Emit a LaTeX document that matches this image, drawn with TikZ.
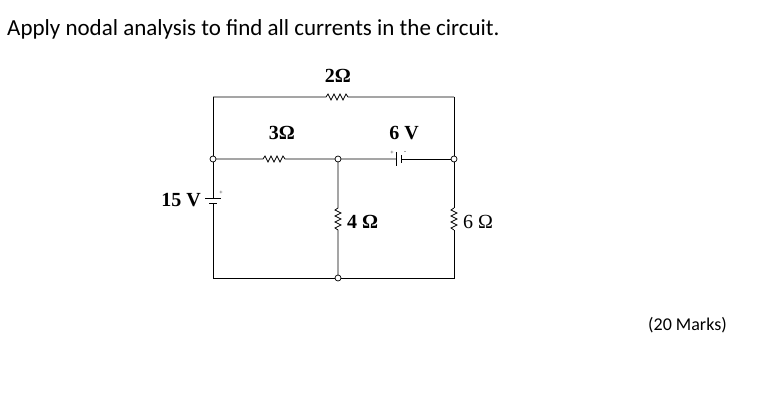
\documentclass[tikz,border=0pt]{standalone}
\usepackage{fontspec}
\setmainfont{Liberation Serif}
\newfontfamily\calib{Carlito}
\begin{document}
\begin{tikzpicture}[x=1pt,y=-1pt,
  wire/.style={line width=0.8pt},
  term/.style={circle,draw,line width=0.7pt,fill=white,inner sep=0pt,minimum size=6pt},
  lbl/.style={font=\fontsize{20}{20}\selectfont\bfseries,inner sep=0pt}]
\useasboundingbox (0,0) rectangle (775,415);
\node[anchor=west,font=\calib\fontsize{23}{25}\selectfont,inner sep=0pt] (title) at (7,29) {Apply nodal analysis to find all currents in the circuit.};
\node[anchor=west,font=\calib\fontsize{18}{20}\selectfont,inner sep=0pt] (marks) at (648,325) {(20 Marks)};
\coordinate (TL) at (213,97); \coordinate (TR) at (454,97);
\coordinate (BL) at (213,278); \coordinate (BR) at (454,278);
\draw[wire] (TL) -- (326,97) -- (328,94) -- (331,100) -- (334,94) -- (337,100) -- (340,94) -- (343,100) -- (346,94) -- (348,97) -- (TR);
\draw[wire] (TL) -- (213,198);
\draw[wire] (205,198) -- (221,198);
\draw[wire] (209,203) -- (217,203);
\draw[wire] (213,203) -- (BL) -- (BR) -- (454,230);
\draw[wire] (454,208) -- (TR);
\draw[wire] (213,159) -- (263,159) -- (265,156) -- (268,162) -- (271,156) -- (274,162) -- (277,156) -- (280,162) -- (283,156) -- (285,159) -- (338,159) -- (396,159);
\draw[wire] (396,152) -- (396,166);
\draw[wire] (401,155) -- (401,163);
\draw[wire] (401,159) -- (454,159);
\draw[wire] (338,159) -- (338,208) -- (335,210) -- (341,213) -- (335,216) -- (341,219) -- (335,222) -- (341,225) -- (335,228) -- (338,230) -- (338,278);
\draw[wire] (454,208) -- (451,210) -- (457,213) -- (451,216) -- (457,219) -- (451,222) -- (457,225) -- (451,228) -- (454,230);
\node[font=\fontsize{6}{6}\selectfont,inner sep=0pt] (p1) at (221,193) {+};
\node[font=\fontsize{6}{6}\selectfont,inner sep=0pt] (p2) at (392,153) {+};
\node[font=\fontsize{6}{6}\selectfont,inner sep=0pt] (p3) at (405,153) {-};
\node[lbl] (l2) at (338,76) {2Ω};
\node[lbl] (l3) at (282,133) {3Ω};
\node[lbl] (l6v) at (404,133) {6 V};
\node[lbl,anchor=east] (l15) at (201,200) {15 V};
\node[lbl,anchor=west] (l4) at (347,222) {4 Ω};
\node[font=\fontsize{20}{20}\selectfont,inner sep=0pt,anchor=west] (l6) at (463,222) {6 Ω};
\node[term] (n1) at (213,159) {};
\node[term] (n2) at (338,159) {};
\node[term] (n3) at (454,159) {};
\node[term] (n4) at (338,278) {};
\end{tikzpicture}
\end{document}
